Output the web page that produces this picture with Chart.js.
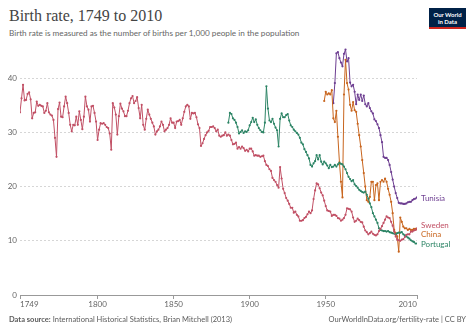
<!DOCTYPE html>
<html lang="en">
  <head>
    <meta charset="UTF-8" />
    <title>Birth rate, 1749 to 2010</title>
    <script src="https://cdn.jsdelivr.net/npm/chart.js"></script>
    <style>
      body {
        margin: 0;
        width: 474px;
        height: 334px;
        position: relative;
        overflow: hidden;
        background: #fff;
        font-family: Lato, sans-serif;
      }
      #title {
        position: absolute;
        left: 9px;
        top: 7px;
        font: 16px "Liberation Serif", serif;
        color: #444;
        white-space: nowrap;
      }
      #subtitle {
        position: absolute;
        left: 9px;
        top: 28px;
        font-size: 8.2px;
        color: #666;
        white-space: nowrap;
      }
      #logo {
        position: absolute;
        left: 429px;
        top: 8px;
        width: 37px;
        height: 21px;
        background: #002147;
        border-bottom: 2px solid #ce261e;
        color: #fff;
        font-size: 6px;
        font-weight: bold;
        line-height: 7px;
        text-align: center;
        padding-top: 3px;
        box-sizing: border-box;
      }
      #chart {
        position: absolute;
        left: 0;
        top: 0;
      }
      .foot {
        position: absolute;
        top: 315px;
        font-size: 7.5px;
        color: #5b5b5b;
        white-space: nowrap;
      }
      #source { left: 9px; }
      #url { right: 8px; }
    </style>
  </head>
  <body>
    <div id="title">Birth rate, 1749 to 2010</div>
    <div id="subtitle">
      Birth rate is measured as the number of births per 1,000 people in the population
    </div>
    <div id="logo">Our World<br />in Data</div>
    <canvas id="chart" width="474" height="334"></canvas>
    <div id="source" class="foot">
      <b>Data source:</b> International Historical Statistics, Brian Mitchell (2013)
    </div>
    <div id="url" class="foot">OurWorldInData.org/fertility-rate | CC BY</div>

    <script>
      // tick labels
      const xTicks = [1749, 1800, 1850, 1900, 1950, 2010];
      const yTicks = [0, 10, 20, 30, 40];

      // births per 1,000 people, one value per year from the start year
      const swedenStart = 1749;
      const sweden = [
        33.7,
        36.3, 38.8, 35.9, 36.0, 37.1, 37.4, 36.1, 32.6, 33.6, 33.7,
        35.7, 34.9, 35.1, 34.9, 34.8, 33.6, 34.0, 35.4, 33.7, 33.3,
        33.1, 32.3, 29.0, 25.5, 34.3, 35.5, 32.9, 32.8, 34.8, 36.6,
        35.4, 33.6, 31.4, 30.2, 31.4, 31.3, 32.9, 31.4, 33.9, 32.3,
        30.6, 32.9, 36.6, 34.8, 34.2, 32.0, 34.8, 34.9, 33.6, 32.0,
        28.6, 30.5, 31.7, 31.6, 31.7, 31.4, 31.0, 30.8, 29.8, 26.8,
        35.4, 34.6, 33.3, 29.6, 33.0, 35.3, 34.4, 33.9, 33.0, 33.0,
        34.0, 35.4, 36.3, 36.7, 35.4, 35.8, 36.5, 34.5, 32.6, 35.1,
        31.4, 30.5, 32.5, 34.2, 33.3, 32.5, 31.8, 31.1, 29.6, 30.2,
        30.5, 31.1, 32.0, 31.4, 30.2, 30.5, 30.8, 31.4, 32.6, 31.8,
        31.8, 30.8, 32.0, 32.1, 32.3, 31.4, 32.6, 33.8, 34.8, 35.1,
        34.8, 32.5, 33.6, 33.5, 33.6, 32.8, 31.5, 30.8, 27.5, 28.0,
        28.8, 29.5, 30.0, 30.3, 31.0, 31.0, 31.1, 30.8, 30.2, 30.5,
        29.4, 29.2, 29.4, 29.5, 30.0, 29.4, 29.6, 29.4, 28.6, 27.8,
        27.9, 28.1, 27.0, 27.3, 27.0, 27.4, 27.1, 26.6, 26.8, 26.5,
        27.0, 27.0, 26.5, 25.7, 25.8, 25.7, 25.7, 25.5, 25.6, 25.7,
        24.7, 24.0, 23.8, 23.2, 22.9, 21.6, 21.2, 20.9, 20.3, 19.8,
        23.6, 21.5, 19.6, 18.8, 17.9, 17.4, 16.8, 16.1, 16.1, 15.2,
        15.4, 14.8, 14.5, 13.7, 13.7, 13.8, 14.2, 14.4, 14.9, 15.4,
        15.1, 15.6, 17.7, 19.3, 20.6, 20.4, 19.7, 18.9, 18.4, 17.4,
        16.4, 15.6, 15.5, 15.4, 14.6, 14.8, 14.8, 14.6, 14.2, 14.1,
        13.7, 13.9, 14.2, 14.8, 16.0, 15.9, 15.8, 15.4, 14.3, 13.5,
        13.7, 14.1, 13.8, 13.5, 13.4, 12.6, 11.9, 11.6, 11.2, 11.4,
        11.7, 11.3, 11.1, 11.0, 11.2, 11.8, 12.2, 12.7, 13.3, 13.9,
        14.5, 14.3, 14.2, 13.5, 12.8, 11.7, 10.8, 10.2, 10.1, 10.0,
        10.2, 10.3, 10.7, 11.1, 11.2, 11.2, 11.7, 11.7, 11.9, 12.0, 12.3,
      ];

      const portugalStart = 1886;
      const portugal = [
        31.8, 33.6, 33.4, 32.6,
        32.3, 31.8, 31.0, 29.8, 30.1, 30.4, 29.9, 30.2, 30.1, 30.4,
        31.3, 31.9, 32.7, 31.9, 32.4, 31.4, 30.8, 30.4, 30.1, 30.0,
        31.8, 38.5, 34.4, 32.2, 31.9, 32.5, 31.6, 30.9, 30.4, 27.4,
        32.5, 33.5, 32.8, 32.8, 33.2, 33.4, 32.2, 31.3, 31.0, 30.5,
        30.2, 29.9, 29.6, 29.0, 28.1, 27.8, 26.9, 26.4, 25.8, 25.2,
        24.0, 23.7, 24.3, 24.7, 25.8, 25.0, 25.8, 24.6, 24.1, 24.6,
        24.3, 23.9, 23.4, 24.0, 23.6, 23.7, 24.0, 23.7, 24.1, 24.4,
        24.2, 24.1, 23.7, 23.2, 22.5, 21.8, 21.4, 21.0, 21.2, 20.4,
        20.1, 19.8, 19.4, 19.2, 19.0, 18.9, 19.1, 18.5, 17.8, 16.9,
        16.2, 15.1, 14.5, 13.9, 13.3, 12.3, 12.0, 11.9, 11.8, 11.8,
        11.7, 11.8, 11.6, 11.5, 11.4, 11.3, 11.2, 11.4, 11.5, 11.5,
        11.6, 11.2, 11.0, 10.8, 10.6, 10.4, 10.1, 9.9, 9.8, 9.5, 9.5,
      ];

      const chinaStart = 1949;
      const china = [
        35.8,
        37.5, 37.0, 37.2, 37.0, 37.8, 32.6, 31.9, 34.0, 29.2, 24.5,
        20.9, 18.0, 37.0, 43.4, 39.1, 37.9, 35.1, 34.0, 35.6, 34.1,
        33.8, 31.6, 29.5, 27.4, 24.9, 22.5, 20.0, 17.5, 17.2, 18.1,
        20.9, 20.9, 17.5, 20.3, 20.6, 17.5, 20.9, 21.2, 20.9, 21.5,
        20.9, 19.6, 18.5, 17.2, 15.1, 12.0, 11.4, 10.8, 8.0, 14.3,
        13.5, 12.6, 12.3, 12.3, 12.0, 12.2, 12.0, 12.0, 12.2, 12.2, 12.1,
      ];

      const tunisiaStart = 1955;
      const tunisia = [
        35.4, 39.1, 44.6, 44.8, 43.7,
        42.9, 42.2, 44.5, 45.3, 43.1, 43.7, 39.2, 38.5, 38.8, 37.5,
        35.2, 37.0, 36.0, 37.0, 35.8, 36.8, 35.2, 34.8, 35.4, 34.5,
        33.9, 33.5, 32.4, 32.1, 31.5, 30.8, 29.5, 28.2, 25.5, 25.3,
        25.3, 24.9, 24.0, 22.7, 21.3, 20.0, 18.8, 17.9, 17.0, 16.9,
        16.9, 16.8, 16.8, 16.9, 17.1, 17.2, 17.2, 17.5, 17.7, 17.8, 18.0,
      ];

      function toPoints(start, values) {
        return values.map((v, i) => ({ x: start + i, y: v }));
      }

      function series(label, color, start, values) {
        return {
          label: label,
          data: toPoints(start, values),
          borderColor: color,
          backgroundColor: color,
          borderWidth: 1,
          pointRadius: 1.1,
          pointBorderWidth: 0,
          pointBackgroundColor: color,
          tension: 0,
        };
      }

      // names at the right end of each line, pushed apart when they collide
      const endLabels = {
        id: "endLabels",
        afterDatasetsDraw(chart) {
          const { ctx, chartArea } = chart;
          const items = chart.data.datasets
            .map((ds, i) => {
              const pts = chart.getDatasetMeta(i).data;
              return { text: ds.label, color: ds.borderColor, y: pts[pts.length - 1].y };
            })
            .sort((a, b) => a.y - b.y);
          for (let k = 1; k < items.length; k++) {
            const gap = items[k].y - items[k - 1].y;
            if (gap < 9) {
              const mid = (items[k].y + items[k - 1].y) / 2;
              items[k - 1].y = mid - 4.5;
              items[k].y = mid + 4.5;
            }
          }
          ctx.save();
          ctx.font = "8px Lato";
          ctx.textBaseline = "middle";
          items.forEach((it) => {
            ctx.fillStyle = it.color;
            ctx.fillText(it.text, chartArea.right + 4, it.y + 1);
          });
          ctx.restore();
        },
      };

      const tickFont = { family: "Lato", size: 8 };

      new Chart(document.getElementById("chart"), {
        type: "line",
        data: {
          datasets: [
            series("Sweden", "#c15065", swedenStart, sweden),
            series("Portugal", "#2c8465", portugalStart, portugal),
            series("China", "#c8651e", chinaStart, china),
            series("Tunisia", "#6d3e91", tunisiaStart, tunisia),
          ],
        },
        options: {
          responsive: false,
          animation: false,
          layout: { padding: { top: 43, right: 57, bottom: 19, left: 0 } },
          plugins: {
            legend: { display: false },
            tooltip: { enabled: false },
          },
          scales: {
            x: {
              type: "linear",
              min: 1749,
              max: 2010,
              afterBuildTicks: (s) => {
                s.ticks = xTicks.map((v) => ({ value: v }));
              },
              afterFit: (s) => {
                s.height = 20;
              },
              ticks: {
                align: "inner",
                autoSkip: false,
                maxRotation: 0,
                padding: 1,
                color: "#666",
                font: tickFont,
                callback: (v) => String(v),
              },
              grid: {
                drawOnChartArea: false,
                drawTicks: true,
                tickLength: 4,
                color: "#999",
              },
              border: { display: true, color: "#999" },
            },
            y: {
              min: 0,
              max: 46.5,
              afterBuildTicks: (s) => {
                s.ticks = yTicks.map((v) => ({ value: v }));
              },
              afterFit: (s) => {
                s.width = 20;
              },
              ticks: { padding: 3, color: "#666", font: tickFont },
              grid: { color: "#d6d6d6", drawTicks: false },
              border: { display: false, dash: [2, 2] },
            },
          },
        },
        plugins: [endLabels],
      });
    </script>
  </body>
</html>
